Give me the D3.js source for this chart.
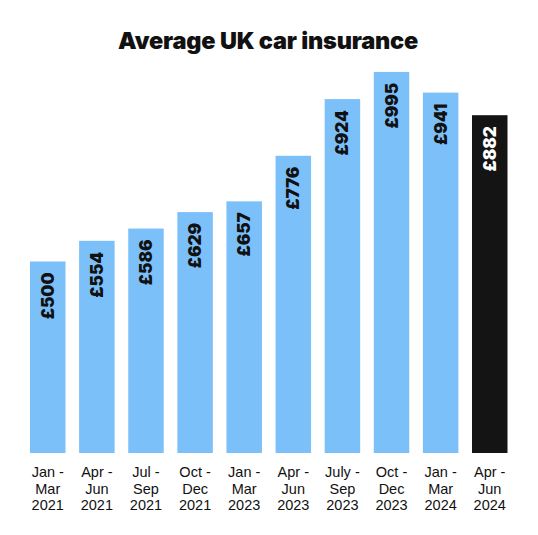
<!DOCTYPE html>
<html>
<head>
<meta charset="utf-8">
<script src="https://cdn.jsdelivr.net/npm/d3@7"></script>
<style>
  html, body { margin: 0; padding: 0; background: #fff; }
  svg { display: block; }
</style>
</head>
<body>
<svg id="chart" width="538" height="535"></svg>
<script>
const periods = [
  ["Jan -", "Mar", "2021"],
  ["Apr -", "Jun", "2021"],
  ["Jul -", "Sep", "2021"],
  ["Oct -", "Dec", "2021"],
  ["Jan -", "Mar", "2023"],
  ["Apr -", "Jun", "2023"],
  ["July -", "Sep", "2023"],
  ["Oct -", "Dec", "2023"],
  ["Jan -", "Mar", "2024"],
  ["Apr -", "Jun", "2024"]
];
const prices = [500, 554, 586, 629, 657, 776, 924, 995, 941, 882];

const svg = d3.select("#chart");

const x = d3.scaleBand()
  .domain(d3.range(prices.length))
  .range([30, 507.5])
  .paddingInner(0.277)
  .paddingOuter(0);

const y = d3.scaleLinear()
  .domain([0, 1000])
  .range([453, 70]);

const last = prices.length - 1;

// title
svg.append("text")
  .attr("x", 268)
  .attr("y", 49)
  .attr("text-anchor", "middle")
  .attr("font-family", "Inter, 'Noto Sans', sans-serif")
  .attr("font-weight", 900)
  .attr("font-size", 23.5)
  .attr("letter-spacing", -0.2)
  .attr("fill", "#111")
  .text("Average UK car insurance");

// bars
svg.append("g")
  .selectAll("rect")
  .data(prices)
  .join("rect")
  .attr("x", (d, i) => x(i))
  .attr("y", d => y(d))
  .attr("width", x.bandwidth())
  .attr("height", d => y(0) - y(d))
  .attr("fill", (d, i) => i === last ? "#141414" : "#7cc0fa");

// value labels, rotated, reading bottom to top
svg.append("g")
  .selectAll("text")
  .data(prices)
  .join("text")
  .attr("transform", (d, i) => `translate(${x(i) + x.bandwidth() / 2 + 6},${y(d) + 11}) rotate(-90)`)
  .attr("text-anchor", "end")
  .attr("font-family", "Inter, 'Noto Sans', sans-serif")
  .attr("font-weight", 900)
  .attr("font-size", 17)
  .attr("fill", (d, i) => i === last ? "#fff" : "#111")
  .text(d => "£" + d);

// category labels
const lab = svg.append("g")
  .selectAll("text")
  .data(periods)
  .join("text")
  .attr("text-anchor", "middle")
  .attr("font-family", "'Liberation Sans', Arial, sans-serif")
  .attr("font-size", 14.5)
  .attr("fill", "#111");

lab.each(function (lines, i) {
  const t = d3.select(this);
  lines.forEach((s, k) => {
    t.append("tspan")
      .attr("x", x(i) + x.bandwidth() / 2)
      .attr("y", 477 + k * 16.5)
      .text(s);
  });
});
</script>
</body>
</html>
